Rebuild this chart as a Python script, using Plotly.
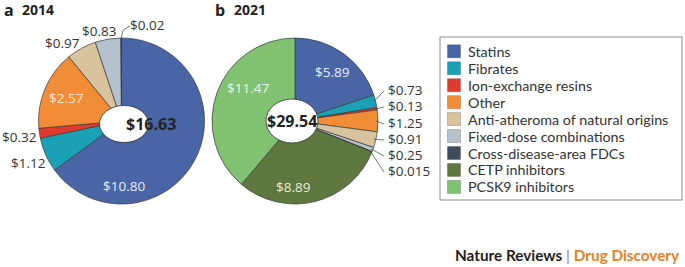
import math
import plotly.graph_objects as go

W, H = 685, 267

categories = ["Statins", "Fibrates", "Ion-exchange resins", "Other",
              "Anti-atheroma of natural origins", "Fixed-dose combinations",
              "Cross-disease-area FDCs", "CETP inhibitors", "PCSK9 inhibitors"]
values_2014 = [10.80, 1.12, 0.32, 2.57, 0.97, 0.83, 0.02]
values_2021 = [5.89, 0.73, 0.13, 1.25, 0.91, 0.25, 0.015, 8.89, 11.47]
totals = ["$16.63", "$29.54"]
panel_titles = [("a", "2014"), ("b", "2021")]

colors = ["#4a65a6", "#1aa1b6", "#de3a2d", "#f08d36", "#d9c39e",
          "#b5c2cb", "#3c4c58", "#5e783f", "#80c172"]

def px(x):
    return x / W

def py(y):
    return 1 - y / H

def fmt(v):
    return f"${v:.2f}" if abs(round(v, 2) - v) < 1e-9 else f"${v:.3f}"

# pie geometry (pixels)
pies = [dict(cx=121.5, cy=121, r=83, hole=(124, 124, 49, 37)),
        dict(cx=295, cy=121, r=83, hole=(292, 121, 52, 44))]

# label positions (pixels): (x, y, anchor, colour)
lab_a = [(124, 186, "center", "#e4ebf7"), (28, 163, "center", "#333"),
         (19, 137, "center", "#333"), (66, 98, "center", "#fde9d6"),
         (62, 43, "center", "#333"), (99, 31, "center", "#333"),
         (147, 25, "center", "#333")]
lab_b = [(332, 72, "center", "#e8eefa"), (386, 90, "left", "#333"),
         (386, 106, "left", "#333"), (386, 123, "left", "#333"),
         (386, 139, "left", "#333"), (386, 155, "left", "#333"),
         (386, 171, "left", "#333"), (293, 187, "center", "#e9efdd"),
         (248, 88, "center", "#eef7ea")]

fig = go.Figure()
for i, vals in enumerate([values_2014, values_2021]):
    p = pies[i]
    fig.add_trace(go.Pie(
        labels=categories[:len(vals)], values=vals, name=panel_titles[i][1],
        marker=dict(colors=colors[:len(vals)], line=dict(color="#3a3a3a", width=0.7)),
        sort=False, direction="clockwise", rotation=0,
        textinfo="none", hoverinfo="label+value", showlegend=False,
        domain=dict(x=[px(p["cx"] - p["r"]), px(p["cx"] + p["r"])],
                    y=[py(p["cy"] + p["r"]), py(p["cy"] - p["r"])]),
    ))

annotations = []
shapes = []
font_lab = "Open Sans"

for i, (vals, labs) in enumerate([(values_2014, lab_a), (values_2021, lab_b)]):
    p = pies[i]
    tot = sum(vals)
    cum = 0
    for v, (lx, ly, anc, col) in zip(vals, labs):
        mid = (cum + v / 2) / tot * 2 * math.pi
        cum += v
        annotations.append(dict(x=px(lx), y=py(ly), xref="paper", yref="paper",
                                text=fmt(v), showarrow=False, xanchor=anc,
                                yanchor="middle",
                                font=dict(family=font_lab, size=13.5, color=col)))
        if anc == "left":
            sx = p["cx"] + (p["r"] - 2) * math.sin(mid)
            sy = p["cy"] - (p["r"] - 2) * math.cos(mid)
            shapes.append(dict(type="line", xref="paper", yref="paper",
                               x0=px(sx), y0=py(sy), x1=px(lx - 2), y1=py(ly + 1),
                               line=dict(color="#555", width=0.8)))
        if i == 0 and v < 0.1:
            sx = p["cx"] + p["r"] * math.sin(mid)
            sy = p["cy"] - p["r"] * math.cos(mid)
            path = (f"M{px(sx)},{py(sy)} L{px(sx + 2)},{py(ly + 5)} "
                    f"L{px(lx - 17)},{py(ly + 1)}")
            shapes.append(dict(type="path", xref="paper", yref="paper", path=path,
                               line=dict(color="#555", width=0.8)))
    hx, hy, hw, hh = p["hole"]
    shapes.append(dict(type="circle", xref="paper", yref="paper", layer="above",
                       x0=px(hx - hw / 2), x1=px(hx + hw / 2),
                       y0=py(hy + hh / 2), y1=py(hy - hh / 2),
                       fillcolor="white", line=dict(color="#333", width=0.8)))
    annotations.append(dict(x=px(hx), y=py(hy), xref="paper", yref="paper",
                            text=f"<b>{totals[i]}</b>", showarrow=False,
                            font=dict(family=font_lab, size=16, color="#222")))

# panel titles
for (letter, year), (lx, yx) in zip(panel_titles, [(2, 20), (213, 232)]):
    annotations.append(dict(x=px(lx), y=py(10), xref="paper", yref="paper",
                            text=f"<b>{letter}</b>", showarrow=False, xanchor="left",
                            yanchor="middle",
                            font=dict(family="Open Sans", size=16, color="#222")))
    annotations.append(dict(x=px(yx), y=py(10), xref="paper", yref="paper",
                            text=f"<b>{year}</b>", showarrow=False, xanchor="left",
                            yanchor="middle",
                            font=dict(family="Open Sans", size=14, color="#222")))

# legend (box, swatches, texts)
leg_box = (440, 37, 682, 200)
shapes.append(dict(type="rect", xref="paper", yref="paper",
                   x0=px(leg_box[0]), x1=px(leg_box[2]),
                   y0=py(leg_box[3]), y1=py(leg_box[1]),
                   line=dict(color="#8c8c8c", width=1), fillcolor="white", layer="below"))
for k, (cat, col) in enumerate(zip(categories, colors)):
    yc = 51.3 + 16.95 * k
    shapes.append(dict(type="rect", xref="paper", yref="paper",
                       x0=px(447.5), x1=px(460.5), y0=py(yc + 6.5), y1=py(yc - 6.5),
                       fillcolor=col, line=dict(color="rgba(0,0,0,0.25)", width=0.8)))
    annotations.append(dict(x=px(466), y=py(yc), xref="paper", yref="paper",
                            text=cat, showarrow=False, xanchor="left", yanchor="middle",
                            font=dict(family="Lato", size=14.3, color="#333")))

# footer
annotations.append(dict(x=px(682), y=py(255), xref="paper", yref="paper",
                        xanchor="right", yanchor="middle", showarrow=False,
                        text="<b>Nature Reviews</b> <span style='color:#888'>|</span> "
                             "<b><span style='color:#e8821e'>Drug Discovery</span></b>",
                        font=dict(family="Lato", size=15.3, color="#222")))

fig.update_layout(
    width=W, height=H, margin=dict(l=0, r=0, t=0, b=0),
    paper_bgcolor="white", plot_bgcolor="white",
    showlegend=False,
    annotations=annotations, shapes=shapes,
)

fig.write_html("out.html", config={"displayModeBar": False},
               post_script="document.body.style.margin='0';")
